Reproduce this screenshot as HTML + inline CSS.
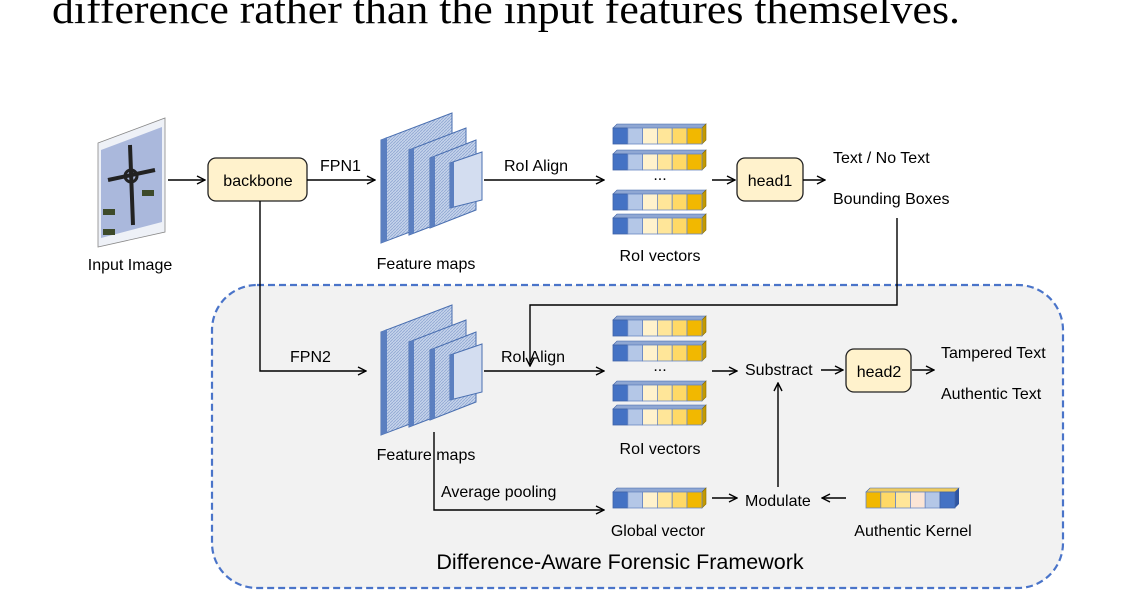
<!DOCTYPE html>
<html><head><meta charset="utf-8"><style>body{margin:0;background:#fff}svg{display:block}</style></head>
<body>
<svg width="1146" height="597" viewBox="0 0 1146 597" xmlns="http://www.w3.org/2000/svg" font-family="Liberation Sans, sans-serif">
<defs>
<marker id="a" markerWidth="10" markerHeight="10" refX="9" refY="5" orient="auto" markerUnits="userSpaceOnUse"><path d="M1,1 L9,5 L1,9" fill="none" stroke="#000" stroke-width="1.4"/></marker>
<pattern id="h" width="3" height="3" patternUnits="userSpaceOnUse"><rect width="3" height="3" fill="#c5d3ea"/><path d="M0,3 L3,0" stroke="#8fa7d3" stroke-width="0.8"/></pattern>
<g id="fm">
<polygon points="381,140 452,113 452,216 381,243" fill="url(#h)" stroke="#4a6fb0" stroke-width="1"/>
<polygon points="381,140 387,137 387,241 381,243" fill="#5b7fc0"/>
<polygon points="409,150 466,128 466,213 409,235" fill="url(#h)" stroke="#4a6fb0" stroke-width="1"/>
<polygon points="409,150 414,148 414,233 409,235" fill="#5b7fc0"/>
<polygon points="430,158 476,140 476,210 430,228" fill="url(#h)" stroke="#4a6fb0" stroke-width="1"/>
<polygon points="430,158 435,156 435,226 430,228" fill="#5b7fc0"/>
<polygon points="450,163 482,152 482,200 450,208" fill="#d3ddf0" stroke="#4a6fb0" stroke-width="1"/>
<polygon points="450,163 454,162 454,207 450,208" fill="#5b7fc0"/>
</g>
<g id="v">
<polygon points="0,4 4,0 93,0 89,4" fill="#8fa7d3" stroke="#3f62a8" stroke-width="0.6"/>
<polygon points="89,4 93,0 93,16 89,20" fill="#c49a00" stroke="#8a6d00" stroke-width="0.6"/>
<rect x="0" y="4" width="14.8" height="16" fill="#4472c4" stroke="#3f62a8" stroke-width="0.8"/>
<rect x="14.8" y="4" width="14.8" height="16" fill="#b4c7e7" stroke="#6a88c4" stroke-width="0.8"/>
<rect x="29.6" y="4" width="14.8" height="16" fill="#fff2cc" stroke="#6a88c4" stroke-width="0.8"/>
<rect x="44.4" y="4" width="14.8" height="16" fill="#ffe699" stroke="#6a88c4" stroke-width="0.8"/>
<rect x="59.2" y="4" width="14.8" height="16" fill="#ffd966" stroke="#6a88c4" stroke-width="0.8"/>
<rect x="74" y="4" width="15" height="16" fill="#f2b800" stroke="#6a88c4" stroke-width="0.8"/>
</g>
<g id="k">
<polygon points="0,4 4,0 93,0 89,4" fill="#f0cc60" stroke="#3f62a8" stroke-width="0.6"/>
<polygon points="89,4 93,0 93,16 89,20" fill="#2f55a0"/>
<rect x="0" y="4" width="14.8" height="16" fill="#f2b800" stroke="#6a88c4" stroke-width="0.8"/>
<rect x="14.8" y="4" width="14.8" height="16" fill="#ffd966" stroke="#6a88c4" stroke-width="0.8"/>
<rect x="29.6" y="4" width="14.8" height="16" fill="#ffe699" stroke="#6a88c4" stroke-width="0.8"/>
<rect x="44.4" y="4" width="14.8" height="16" fill="#fbe5d6" stroke="#6a88c4" stroke-width="0.8"/>
<rect x="59.2" y="4" width="14.8" height="16" fill="#b4c7e7" stroke="#6a88c4" stroke-width="0.8"/>
<rect x="74" y="4" width="15" height="16" fill="#4472c4" stroke="#3f62a8" stroke-width="0.8"/>
</g>
</defs>
<text x="52" y="23" font-family="Liberation Serif, serif" font-size="41" textLength="908" lengthAdjust="spacingAndGlyphs">difference rather than the input features themselves.</text>

<rect x="212" y="285" width="851" height="303" rx="45" fill="#f2f2f2" stroke="#4a74c9" stroke-width="2.2" stroke-dasharray="7,4"/>

<polygon points="98,143 165,118 165,232 98,247" fill="#eef1f7" stroke="#888" stroke-width="0.8"/>
<polygon points="101,150 162,127 162,222 101,238" fill="#aab8dc"/>
<path d="M108,180 L155,170 M130,145 L133,225" stroke="#222" stroke-width="4" fill="none"/>
<circle cx="131" cy="176" r="6" fill="none" stroke="#222" stroke-width="3"/>
<rect x="103" y="209" width="12" height="6" fill="#3d4a2a"/><rect x="103" y="229" width="12" height="6" fill="#3d4a2a"/><rect x="142" y="190" width="12" height="6" fill="#3d4a2a"/>

<g font-size="16" fill="#000">
<text x="130" y="270" text-anchor="middle">Input Image</text>
<rect x="208" y="158" width="99" height="43" rx="8" fill="#fff2cc" stroke="#222" stroke-width="1.3"/>
<text x="258" y="186" text-anchor="middle">backbone</text>
<text x="320" y="171">FPN1</text>
<use href="#fm"/>
<text x="426" y="269" text-anchor="middle">Feature maps</text>
<text x="504" y="171">RoI Align</text>
<use href="#v" x="613" y="124"/><use href="#v" x="613" y="150"/><use href="#v" x="613" y="190"/><use href="#v" x="613" y="214"/>
<text x="660" y="180" text-anchor="middle">...</text>
<text x="660" y="261" text-anchor="middle">RoI vectors</text>
<rect x="737" y="158" width="66" height="43" rx="8" fill="#fff2cc" stroke="#222" stroke-width="1.3"/>
<text x="770" y="186" text-anchor="middle">head1</text>
<text x="833" y="163">Text / No Text</text>
<text x="833" y="204">Bounding Boxes</text>

<text x="290" y="362">FPN2</text>
<use href="#fm" y="192"/>
<text x="426" y="460" text-anchor="middle">Feature maps</text>
<text x="501" y="362">RoI Align</text>
<use href="#v" x="613" y="316"/><use href="#v" x="613" y="341"/><use href="#v" x="613" y="381"/><use href="#v" x="613" y="405"/>
<text x="660" y="371" text-anchor="middle">...</text>
<text x="660" y="454" text-anchor="middle">RoI vectors</text>
<text x="745" y="375">Substract</text>
<rect x="846" y="349" width="65" height="43" rx="8" fill="#fff2cc" stroke="#222" stroke-width="1.3"/>
<text x="879" y="377" text-anchor="middle">head2</text>
<text x="941" y="358">Tampered Text</text>
<text x="941" y="399">Authentic Text</text>
<text x="441" y="497">Average pooling</text>
<use href="#v" x="613" y="488"/>
<text x="658" y="536" text-anchor="middle">Global vector</text>
<text x="745" y="506">Modulate</text>
<use href="#k" x="866" y="488"/>
<text x="913" y="536" text-anchor="middle">Authentic Kernel</text>
<text x="620" y="569" text-anchor="middle" font-size="21.5">Difference-Aware Forensic Framework</text>
</g>

<g stroke="#000" stroke-width="1.4" fill="none" marker-end="url(#a)">
<path d="M168,180 H205"/>
<path d="M307,180 H375"/>
<path d="M484,180 H604"/>
<path d="M712,180 H735"/>
<path d="M803,180 H825"/>
<path d="M897,218 V305 H530 V366"/>
<path d="M260,201 V371 H366"/>
<path d="M484,371 H604"/>
<path d="M712,371 H737"/>
<path d="M821,370 H843"/>
<path d="M912,370 H934"/>
<path d="M434,432 V510 H604"/>
<path d="M712,498 H737"/>
<path d="M778,487 V383"/>
<path d="M846,498 H822"/>
</g>
</svg>
</body></html>
